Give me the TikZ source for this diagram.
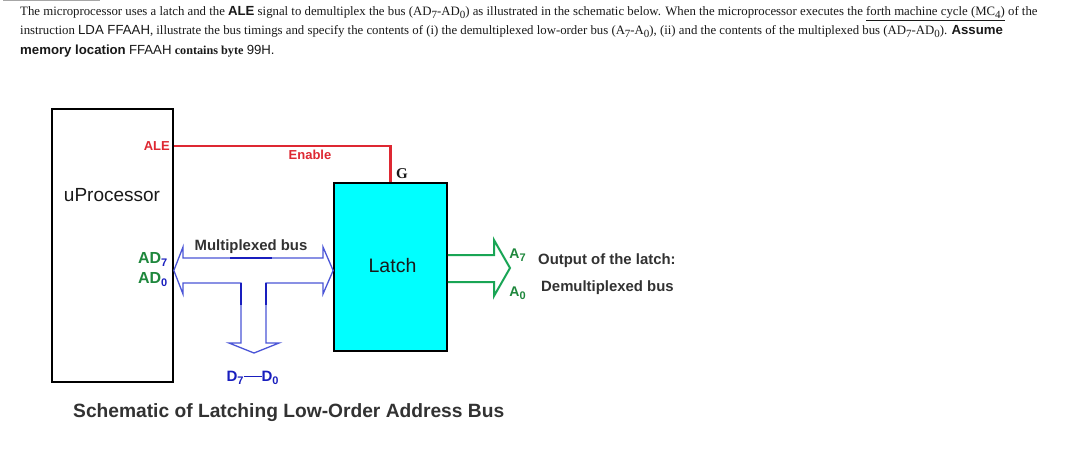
\documentclass[tikz,border=0pt]{standalone}
\usepackage{fontspec}
\setmainfont{Liberation Serif}
\newfontfamily\sfa{Liberation Sans}
\newcommand{\sbs}[1]{\raisebox{-0.28em}{\fontsize{11}{11}\selectfont #1}}
\newcommand{\sbd}[1]{\raisebox{-0.2em}{\fontsize{11}{11}\selectfont #1}}
\definecolor{redl}{RGB}{222,40,50}
\definecolor{bluel}{RGB}{75,85,215}
\definecolor{blued}{RGB}{25,30,190}
\definecolor{greenl}{RGB}{25,165,85}
\definecolor{greent}{RGB}{30,135,60}
\definecolor{dark}{RGB}{50,50,50}
\definecolor{body}{RGB}{25,25,25}
\definecolor{latchfill}{RGB}{0,255,255}
\tikzset{
  para/.style={anchor=base west,inner sep=0pt,text=body,font=\fontsize{12.8}{14}\selectfont},
  lab/.style={inner sep=0pt,font=\sfa\bfseries\fontsize{13}{14}\selectfont},
  blockbox/.style={draw=black,line width=1.7pt,inner sep=0pt},
  busline/.style={draw=bluel,line width=1.3pt,line join=miter},
  busdark/.style={draw=blued,line width=1.7pt},
  outbus/.style={draw=greenl,line width=2pt,line join=miter},
}
\begin{document}
\begin{tikzpicture}[x=1pt,y=-1pt]
\useasboundingbox (0,0) rectangle (1075,458);
\fill[white] (0,0) rectangle (1075,458);
\draw[gray!70,line width=.8pt] (3,.5) -- (100,.5);
% paragraph
\node[para] (l1) at (20,15) {The microprocessor uses a latch and the {\sfa\bfseries\fontsize{13.2}{14}\selectfont ALE} signal to demultiplex the bus (AD\sbs{7}-AD\sbs{0}) as illustrated in the schematic below. When the microprocessor executes the \underline{forth machine cycle (MC\sbs{4})} of the};
\node[para] (l2) at (20,34) {instruction {\sfa\fontsize{13.2}{14}\selectfont LDA FFAAH}, illustrate the bus timings and specify the contents of (i) the demultiplexed low-order bus (A\sbs{7}-A\sbs{0}), (ii) and the contents of the multiplexed bus (AD\sbs{7}-AD\sbs{0}). {\sfa\bfseries\fontsize{13.2}{14}\selectfont Assume}};
\node[para] (l3) at (20,54) {{\sfa\bfseries\fontsize{13.2}{14}\selectfont memory location} {\sfa\fontsize{13.2}{14}\selectfont FFAAH} {\bfseries\fontsize{12.2}{14}\selectfont contains byte} {\sfa\fontsize{13.2}{14}\selectfont 99H.}};
% blocks
\node[blockbox,minimum width=121pt,minimum height=273pt] (up) at (112.5,245.5) {};
\node[blockbox,fill=latchfill,minimum width=113pt,minimum height=168pt] (latch) at (390.5,267) {};
\node[inner sep=0pt,font=\sfa\fontsize{19}{21}\selectfont,text=body] (uplab) at (112,195) {uProcessor};
\node[inner sep=0pt,font=\sfa\fontsize{19.5}{21}\selectfont,text=body] (latchlab) at (392.5,266) {Latch};
% ALE
\node[lab,text=redl,anchor=east] (ale) at (170,146) {ALE};
\node[lab,text=redl] (enable) at (310,155) {Enable};
\node[inner sep=0pt,font=\bfseries\fontsize{15}{16}\selectfont,text=body] (g) at (402,173.5) {G};
\draw[redl,line width=2.2pt] (up.east |- ale.east) -| (latch.north);
% pins
\node[lab,anchor=east,font=\sfa\bfseries\fontsize{16}{17}\selectfont] (ad7) at (167.5,259.5) {\textcolor{greent}{AD}\textcolor{blued}{\sbd{7}}};
\node[lab,anchor=east,font=\sfa\bfseries\fontsize{16}{17}\selectfont] (ad0) at (167.5,279.5) {\textcolor{greent}{AD}\textcolor{blued}{\sbd{0}}};
% multiplexed bus
\draw[busline] (up.east |- 0,270.5) -- (183,247) -- (183,258) -- (323,258) -- (323,247) -- (latch.west |- 0,270.5)
  -- (323,294) -- (323,283) -- (266,283) -- (266,343) -- (279,343) -- (254,353) -- (229,343) -- (241,343) -- (241,283) -- (183,283) -- (183,294) -- cycle;
\draw[busdark] (230,258) -- (272,258);
\draw[busdark] (241,283) -- (241,305);
\draw[busdark] (266,283) -- (266,305);
\node[lab,text=dark,font=\sfa\bfseries\fontsize{14.9}{16}\selectfont] (mux) at (251,246.5) {Multiplexed bus};
\node[lab,text=blued,font=\sfa\bfseries\fontsize{15}{16}\selectfont] (d70) at (252.5,377.5) {D\sbd{7}\rule[.3em]{18pt}{.7pt}D\sbd{0}};
% output bus
\draw[outbus] (latch.east |- 0,255) -- (494,255) -- (494,240) -- (510,268) -- (494,296) -- (494,282) -- (latch.east |- 0,282);
\node[lab,text=greent,font=\sfa\bfseries\fontsize{14}{15}\selectfont] (a7) at (517.5,255) {A\sbd{7}};
\node[lab,text=greent,font=\sfa\bfseries\fontsize{14}{15}\selectfont] (a0) at (517.5,293.5) {A\sbd{0}};
\node[lab,text=dark,font=\sfa\bfseries\fontsize{14.9}{16}\selectfont,anchor=west] (o1) at (538,260.5) {Output of the latch:};
\node[lab,text=dark,font=\sfa\bfseries\fontsize{14.9}{16}\selectfont,anchor=west] (o2) at (541,287.5) {Demultiplexed bus};
% caption
\node[inner sep=0pt,anchor=west,text=dark,font=\sfa\bfseries\fontsize{19.2}{21}\selectfont] (cap) at (73,413) {Schematic of Latching Low-Order Address Bus};
\end{tikzpicture}
\end{document}
